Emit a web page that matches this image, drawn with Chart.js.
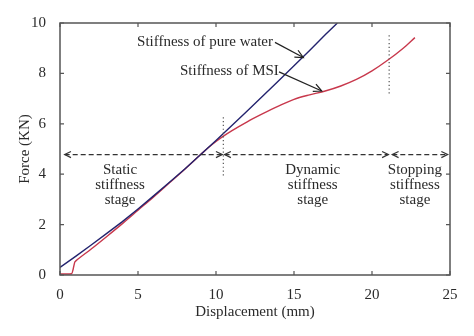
<!DOCTYPE html>
<html>
<head>
<meta charset="utf-8">
<script src="https://cdn.jsdelivr.net/npm/chart.js@4"></script>
<style>html,body{margin:0;padding:0;background:#fff}</style>
</head>
<body>
<canvas id="chart" width="474" height="336"></canvas>
<script>
// axis ticks
const xTicks = [0, 5, 10, 15, 20, 25];
const yTicks = [0, 2, 4, 6, 8, 10];

// stiffness of pure water
const waterX = [0, 1, 2, 3, 4, 5, 6, 7, 8, 9, 10, 11, 12, 13, 14, 15, 16, 17, 17.78];
const waterF = [0.30, 0.74, 1.19, 1.65, 2.12, 2.62, 3.14, 3.67, 4.21, 4.77, 5.34, 5.92, 6.51, 7.10, 7.70, 8.30, 8.91, 9.53, 10.0];

// stiffness of MSI
const msiX = [0, 0.4, 0.75, 0.85, 0.95, 1, 2, 3, 4, 5, 6, 7, 8, 9, 9.5, 10, 10.5, 11, 12, 13, 14, 15, 16, 17, 18, 19, 20, 21, 22, 22.75];
const msiF = [0.04, 0.04, 0.05, 0.25, 0.52, 0.55, 1.03, 1.53, 2.04, 2.57, 3.10, 3.65, 4.20, 4.77, 5.05, 5.30, 5.52, 5.72, 6.08, 6.40, 6.70, 6.97, 7.15, 7.30, 7.50, 7.76, 8.10, 8.52, 9.00, 9.42];

// stage dividers (dotted) and stage arrows (dashed)
const dividerX = [10.47, 21.1];
const dividerSpan = [[3.95, 6.35], [7.2, 9.55]];
const stageArrowY = 4.78;
const stageArrows = [[0.3, 10.4], [10.55, 21.05], [21.3, 24.85]];
const stageNames = ["Static", "Dynamic", "Stopping"];
const stageCenters = [3.85, 16.2, 22.75];
const stageTextY = 4.18;

// callouts: label anchor, arrow start, arrow tip
const calloutText = ["Stiffness of pure water", "Stiffness of MSI"];
const calloutAt = [[4.94, 9.26], [7.69, 8.1]];
const calloutFrom = [[13.78, 9.23], [14.04, 8.06]];
const calloutTo = [[15.6, 8.63], [16.78, 7.3]];

const FONT = '"Liberation Serif", "Times New Roman", serif';
const INK = '#2a2a2a';
const AXIS = '#555';

function pts(xs, ys) {
  return xs.map((x, i) => ({ x: x, y: ys[i] }));
}

function arrowHead(ctx, x0, y0, x1, y1, len) {
  const a = Math.atan2(y1 - y0, x1 - x0);
  const s = 0.45;
  ctx.beginPath();
  ctx.moveTo(x1 - len * Math.cos(a - s), y1 - len * Math.sin(a - s));
  ctx.lineTo(x1, y1);
  ctx.lineTo(x1 - len * Math.cos(a + s), y1 - len * Math.sin(a + s));
  ctx.stroke();
}

const decor = {
  id: 'decor',
  afterDatasetsDraw(chart) {
    const ctx = chart.ctx;
    const xs = chart.scales.x, ys = chart.scales.y;
    const a = chart.chartArea;
    ctx.save();

    // dotted stage dividers
    ctx.strokeStyle = '#555';
    ctx.lineWidth = 1.2;
    ctx.setLineDash([1.2, 2.6]);
    dividerX.forEach((dx, i) => {
      ctx.beginPath();
      ctx.moveTo(xs.getPixelForValue(dx), ys.getPixelForValue(dividerSpan[i][0]));
      ctx.lineTo(xs.getPixelForValue(dx), ys.getPixelForValue(dividerSpan[i][1]));
      ctx.stroke();
    });

    // dashed stage arrows
    const py = ys.getPixelForValue(stageArrowY);
    ctx.strokeStyle = '#333';
    ctx.lineWidth = 1.2;
    stageArrows.forEach(([s, e]) => {
      const x0 = xs.getPixelForValue(s), x1 = xs.getPixelForValue(e);
      ctx.setLineDash([5, 3]);
      ctx.beginPath();
      ctx.moveTo(x0, py);
      ctx.lineTo(x1, py);
      ctx.stroke();
      ctx.setLineDash([]);
      arrowHead(ctx, x1, py, x0, py, 7);
      arrowHead(ctx, x0, py, x1, py, 7);
    });

    // stage labels
    ctx.fillStyle = INK;
    ctx.font = '15px ' + FONT;
    ctx.textAlign = 'center';
    ctx.textBaseline = 'middle';
    stageNames.forEach((n, i) => {
      const cx = xs.getPixelForValue(stageCenters[i]);
      const cy = ys.getPixelForValue(stageTextY);
      [n, 'stiffness', 'stage'].forEach((t, k) => ctx.fillText(t, cx, cy + k * 15));
    });

    // callouts
    ctx.textAlign = 'left';
    ctx.strokeStyle = '#222';
    ctx.lineWidth = 1.2;
    calloutText.forEach((t, i) => {
      ctx.fillText(t, xs.getPixelForValue(calloutAt[i][0]), ys.getPixelForValue(calloutAt[i][1]));
      const x0 = xs.getPixelForValue(calloutFrom[i][0]), y0 = ys.getPixelForValue(calloutFrom[i][1]);
      const x1 = xs.getPixelForValue(calloutTo[i][0]), y1 = ys.getPixelForValue(calloutTo[i][1]);
      ctx.beginPath();
      ctx.moveTo(x0, y0);
      ctx.lineTo(x1, y1);
      ctx.stroke();
      arrowHead(ctx, x0, y0, x1, y1, 9);
    });

    // frame with inward ticks
    ctx.strokeStyle = AXIS;
    ctx.lineWidth = 1.5;
    ctx.strokeRect(a.left, a.top, a.right - a.left, a.bottom - a.top);
    ctx.lineWidth = 1.2;
    ctx.beginPath();
    xTicks.forEach(v => {
      const x = xs.getPixelForValue(v);
      ctx.moveTo(x, a.bottom); ctx.lineTo(x, a.bottom - 4);
      ctx.moveTo(x, a.top); ctx.lineTo(x, a.top + 4);
    });
    yTicks.forEach(v => {
      const y = ys.getPixelForValue(v);
      ctx.moveTo(a.left, y); ctx.lineTo(a.left + 4, y);
      ctx.moveTo(a.right, y); ctx.lineTo(a.right - 4, y);
    });
    ctx.stroke();
    ctx.restore();
  }
};

new Chart(document.getElementById('chart'), {
  type: 'scatter',
  data: {
    datasets: [
      {
        label: 'Stiffness of pure water',
        data: pts(waterX, waterF),
        showLine: true,
        borderColor: '#23236e',
        borderWidth: 1.4,
        pointRadius: 0,
        tension: 0
      },
      {
        label: 'Stiffness of MSI',
        data: pts(msiX, msiF),
        showLine: true,
        borderColor: '#c8384c',
        borderWidth: 1.4,
        pointRadius: 0,
        cubicInterpolationMode: 'monotone'
      }
    ]
  },
  options: {
    responsive: false,
    animation: false,
    layout: { padding: { top: 23, right: 24, left: 0, bottom: 0 } },
    plugins: { legend: { display: false }, tooltip: { enabled: false } },
    scales: {
      x: {
        type: 'linear',
        min: 0, max: 25,
        afterBuildTicks: s => { s.ticks = xTicks.map(v => ({ value: v })); },
        afterFit: s => { s.height = 61; },
        grid: { display: false },
        border: { display: false },
        ticks: { color: INK, font: { family: FONT, size: 15 }, padding: 3 },
        title: { display: true, text: 'Displacement (mm)', color: INK, font: { family: FONT, size: 15 }, padding: { top: 0, bottom: 15 } }
      },
      y: {
        type: 'linear',
        min: 0, max: 10,
        afterBuildTicks: s => { s.ticks = yTicks.map(v => ({ value: v })); },
        afterFit: s => { s.width = 60; },
        grid: { display: false },
        border: { display: false },
        ticks: { color: INK, font: { family: FONT, size: 15 }, padding: 6 },
        title: { display: true, text: 'Force (KN)', color: INK, font: { family: FONT, size: 15 }, padding: { top: 16, bottom: 0 } }
      }
    }
  },
  plugins: [decor]
});
</script>
</body>
</html>
